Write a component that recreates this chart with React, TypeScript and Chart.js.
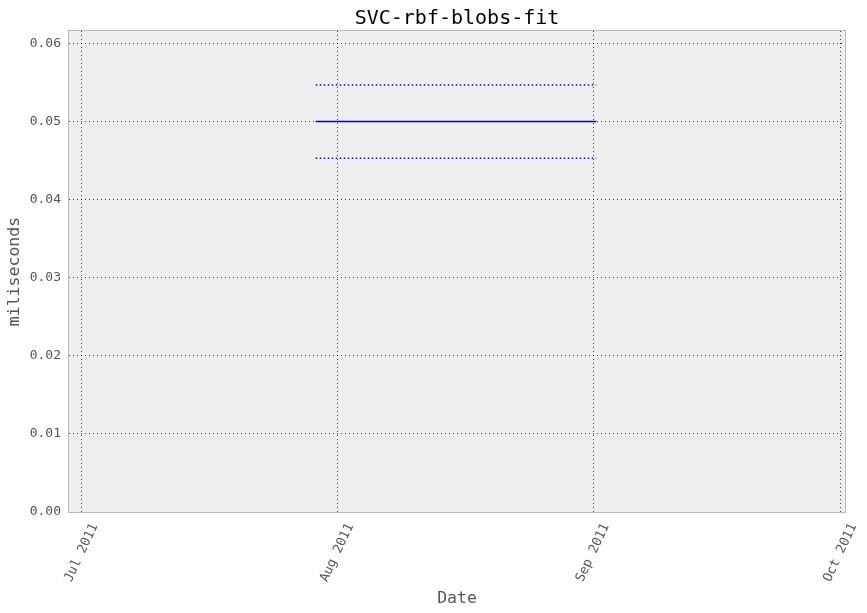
import React, { useEffect, useRef } from "react";
import { Chart, registerables } from "chart.js";

Chart.register(...registerables);

// ---- data ----
const dates = ["2011-07-29T09:00:00Z", "2011-09-01T09:00:00Z"];
const meanMs = [0.05, 0.05];
const upperMs = [0.05467, 0.05467];
const lowerMs = [0.04529, 0.04529];

const xTickDates = ["2011-07-01T00:00:00Z", "2011-08-01T00:00:00Z", "2011-09-01T00:00:00Z", "2011-10-01T00:00:00Z"];
const xTickLabels = ["Jul 2011", "Aug 2011", "Sep 2011", "Oct 2011"];
const yTicks = [0, 0.01, 0.02, 0.03, 0.04, 0.05, 0.06];

const xMinDate = "2011-06-29T11:00:00Z";
const xMaxDate = "2011-10-01T13:00:00Z";
const yMin = 0;
const yMax = 0.0616;

const FONT = "'DejaVu Sans Mono', monospace";

const toT = (s: string) => new Date(s).getTime();

const bgPlugin = {
  id: "bgBox",
  beforeDraw(chart: any) {
    const { ctx, chartArea } = chart;
    const { left, top, width, height } = chartArea;
    ctx.save();
    ctx.fillStyle = "#eeeeee";
    ctx.fillRect(left, top, width, height);
    ctx.restore();
  },
  afterDraw(chart: any) {
    const { ctx, chartArea } = chart;
    const { left, top, width, height } = chartArea;
    ctx.save();
    ctx.strokeStyle = "#bcbcbc";
    ctx.lineWidth = 1;
    ctx.strokeRect(Math.round(left) - 0.5, Math.round(top) - 0.5, Math.round(width) + 1, Math.round(height) + 1);
    ctx.restore();
  },
};

export default function App() {
  const ref = useRef<HTMLCanvasElement>(null);

  useEffect(() => {
    if (!ref.current) return;
    const xs = dates.map(toT);
    const mk = (vals: number[]) => vals.map((v, i) => ({ x: xs[i], y: v }));
    const chart = new Chart(ref.current, {
      type: "line",
      data: {
        datasets: [
          {
            label: "mean",
            data: mk(meanMs),
            borderColor: "#0000cd",
            borderWidth: 1.5,
            pointRadius: 0,
            fill: false,
          },
          {
            label: "upper",
            data: mk(upperMs),
            borderColor: "#0000ff",
            borderWidth: 1.5,
            borderDash: [1.5, 2.5],
            pointRadius: 0,
            fill: false,
          },
          {
            label: "lower",
            data: mk(lowerMs),
            borderColor: "#0000ff",
            borderWidth: 1.5,
            borderDash: [1.5, 2.5],
            pointRadius: 0,
            fill: false,
          },
        ],
      },
      options: {
        responsive: false,
        animation: false,
        layout: { padding: { left: 0, right: 22, top: 0, bottom: 0 } },
        plugins: {
          legend: { display: false },
          tooltip: { enabled: false },
          title: {
            display: true,
            text: "SVC-rbf-blobs-fit",
            color: "#000000",
            font: { family: FONT, size: 20, weight: "normal", lineHeight: 1.1 },
            padding: { top: 8, bottom: 1 },
            fullSize: false,
          } as any,
        },
        scales: {
          x: {
            type: "linear",
            min: toT(xMinDate),
            max: toT(xMaxDate),
            afterBuildTicks: (scale: any) => {
              scale.ticks = xTickDates.map((d) => ({ value: toT(d) }));
            },
            afterFit: (scale: any) => {
              scale.height = 101;
            },
            ticks: {
              callback: (_v: any, i: number) => xTickLabels[i],
              minRotation: 65,
              maxRotation: 65,
              autoSkip: false,
              labelOffset: 13,
              padding: 9,
              color: "#555555",
              font: { family: FONT, size: 13 },
            },
            grid: {
              color: "rgba(0,0,0,0.75)",
              lineWidth: 1,
              drawTicks: false,
            },
            border: { display: false, dash: [1, 3] },
            title: {
              display: true,
              text: "Date",
              color: "#555555",
              font: { family: FONT, size: 16.5 },
              padding: { top: 0, bottom: 4 },
            },
          },
          y: {
            type: "linear",
            min: yMin,
            max: yMax,
            afterBuildTicks: (scale: any) => {
              scale.ticks = yTicks.map((v) => ({ value: v }));
            },
            afterFit: (scale: any) => {
              scale.width = 69;
            },
            ticks: {
              callback: (v: any) => Number(v).toFixed(2),
              padding: 8,
              color: "#555555",
              font: { family: FONT, size: 13 },
            },
            grid: {
              color: "rgba(0,0,0,0.75)",
              lineWidth: 1,
              drawTicks: false,
            },
            border: { display: false, dash: [1, 3] },
            title: {
              display: true,
              text: "miliseconds",
              color: "#555555",
              font: { family: FONT, size: 16.5 },
              padding: { top: 5, bottom: 0 },
            },
          },
        },
      },
      plugins: [bgPlugin],
    });
    return () => chart.destroy();
  }, []);

  return (
    <div style={{ position: "fixed", left: 0, top: 0, width: 867, height: 613, background: "#ffffff" }}>
      <canvas ref={ref} width={867} height={613} style={{ display: "block" }} />
    </div>
  );
}
